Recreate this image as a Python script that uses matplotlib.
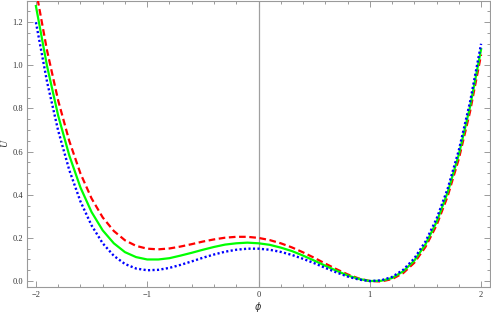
import matplotlib
matplotlib.use('Agg')
import matplotlib.pyplot as plt
from matplotlib.ticker import MultipleLocator, FixedLocator

# field values phi, every 0.1
phi = [-2.0, -1.9, -1.8, -1.7, -1.6, -1.5, -1.4, -1.3, -1.2, -1.1, -1.0,
       -0.9, -0.8, -0.7, -0.6, -0.5, -0.4, -0.3, -0.2, -0.1, 0.0,
       0.1, 0.2, 0.3, 0.4, 0.5, 0.6, 0.7, 0.8, 0.9, 1.0,
       1.1, 1.2, 1.3, 1.4, 1.5, 1.6, 1.7, 1.8, 1.9, 2.0]

# potential U, blue dotted (lowest well on the left)
u_blue = [1.200, 0.924, 0.697, 0.514, 0.369, 0.258, 0.175, 0.117, 0.079, 0.058, 0.050,
          0.052, 0.061, 0.075, 0.091, 0.108, 0.123, 0.136, 0.145, 0.150, 0.150,
          0.145, 0.135, 0.121, 0.103, 0.083, 0.061, 0.040, 0.021, 0.007, 0.000,
          0.003, 0.019, 0.052, 0.105, 0.183, 0.289, 0.429, 0.607, 0.829, 1.100]

# potential U, green solid
u_green = [1.275, 0.997, 0.767, 0.582, 0.434, 0.320, 0.235, 0.175, 0.134, 0.111, 0.100,
           0.100, 0.106, 0.118, 0.131, 0.145, 0.158, 0.169, 0.175, 0.178, 0.175,
           0.168, 0.155, 0.139, 0.118, 0.095, 0.071, 0.048, 0.026, 0.010, 0.000,
           0.001, 0.014, 0.045, 0.095, 0.170, 0.274, 0.412, 0.587, 0.807, 1.075]

# potential U, red dashed (highest well on the left)
u_red = [1.350, 1.069, 0.837, 0.649, 0.499, 0.383, 0.295, 0.232, 0.189, 0.163, 0.150,
         0.147, 0.151, 0.160, 0.171, 0.183, 0.193, 0.201, 0.205, 0.205, 0.200,
         0.190, 0.175, 0.156, 0.133, 0.108, 0.081, 0.055, 0.031, 0.012, 0.000,
         -0.002, 0.009, 0.037, 0.085, 0.158, 0.259, 0.394, 0.567, 0.784, 1.050]

x_ticks = [-2, -1, 0, 1, 2]
x_labels = ['\u22122', '\u22121', '0', '1', '2']
y_ticks = [0.0, 0.2, 0.4, 0.6, 0.8, 1.0, 1.2]
y_labels = ['0.0', '0.2', '0.4', '0.6', '0.8', '1.0', '1.2']

plt.rcParams['font.family'] = ['Liberation Serif', 'DejaVu Serif']
frame_col = '#9a9a9a'
text_col = '#333333'

fig = plt.figure(figsize=(4.91, 3.15), dpi=100)
ax = fig.add_axes([0.055, 0.09, 0.943, 0.908])

ax.axvline(0, color='#a0a0a0', lw=0.9, zorder=1)

ax.plot(phi, u_red, color='#ff0000', lw=1.6, ls=(0, (3.0, 1.6)), zorder=3)
ax.plot(phi, u_green, color='#00ff00', lw=1.6, ls='-', zorder=4)
ax.plot(phi, u_blue, color='#0000ff', lw=1.7, ls=(0, (0.9, 1.0)), zorder=5)

ax.set_xlim(-2.08, 2.08)
ax.set_ylim(-0.026, 1.30)

ax.xaxis.set_major_locator(FixedLocator(x_ticks))
ax.set_xticklabels(x_labels)
ax.xaxis.set_minor_locator(MultipleLocator(0.2))
ax.yaxis.set_major_locator(FixedLocator(y_ticks))
ax.set_yticklabels(y_labels)
ax.yaxis.set_minor_locator(MultipleLocator(0.05))

ax.tick_params(which='both', direction='in', top=True, right=True,
               color=frame_col, width=0.7, labelsize=6, labelcolor=text_col)
ax.tick_params(which='major', length=4, pad=3)
ax.tick_params(which='minor', length=2.2)

for s in ax.spines.values():
    s.set_color(frame_col)
    s.set_linewidth(0.8)

ax.set_xlabel(r'$\phi$', fontsize=7, color=text_col, labelpad=1)
ax.set_ylabel('U', fontsize=7, color=text_col, style='italic', labelpad=2)

plt.savefig('out.png', dpi=100)
